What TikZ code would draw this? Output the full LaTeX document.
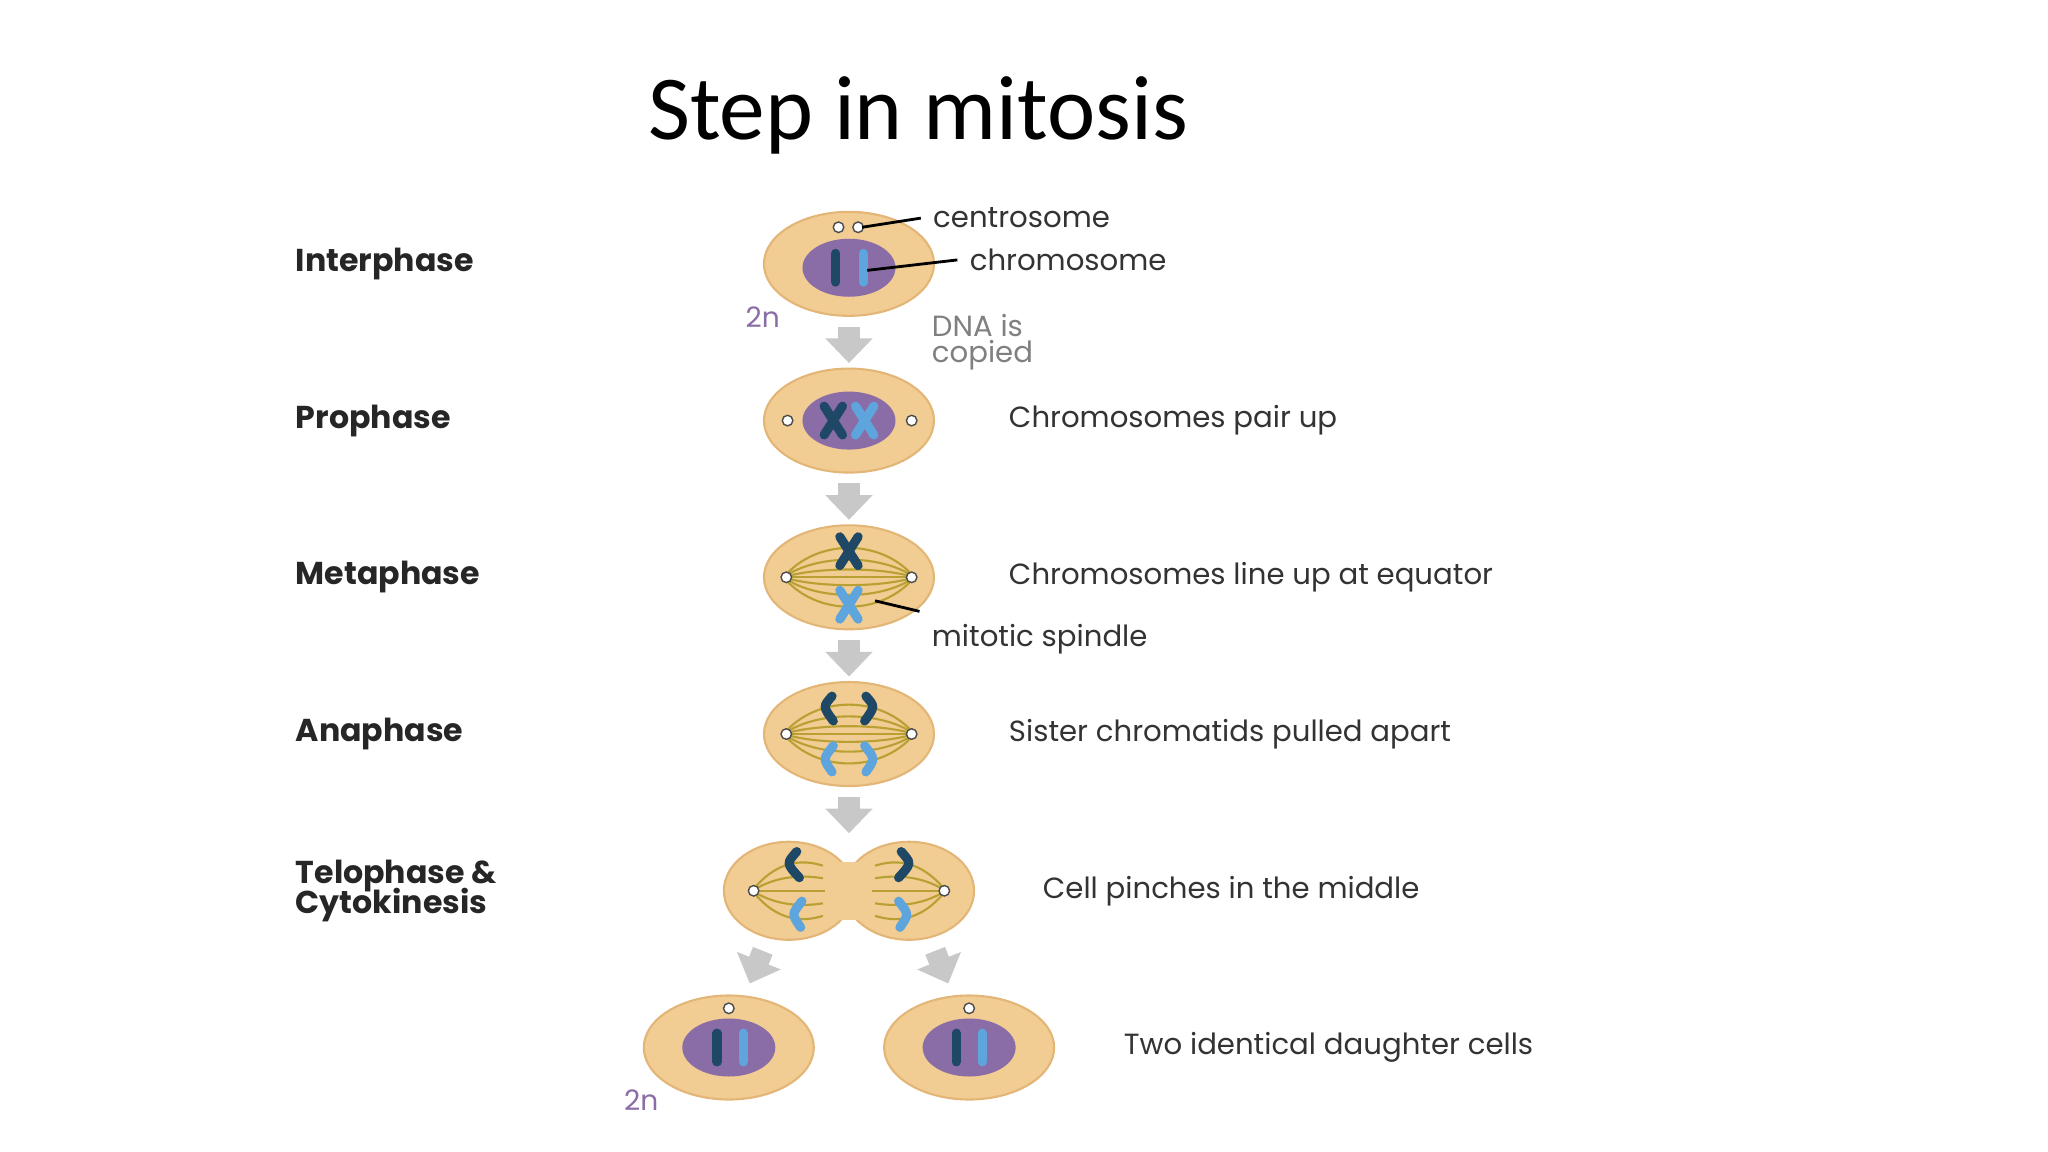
\documentclass[tikz,border=0pt]{standalone}
\usepackage{fontspec}
\setmainfont{Carlito}
\newfontfamily\lab{Poppins}
\usetikzlibrary{shapes.geometric,arrows.meta}
\definecolor{cellc}{HTML}{F1CC93}
\definecolor{celle}{HTML}{E3B677}
\definecolor{nuc}{HTML}{8A6CA6}
\definecolor{dk}{HTML}{1E4866}
\definecolor{lt}{HTML}{5DA5DC}
\definecolor{sp}{HTML}{B9A032}
\definecolor{arr}{HTML}{C8C8C8}
\begin{document}
\begin{tikzpicture}[x=0.013061cm,y=-0.013061cm,
  cell/.style={ellipse,fill=cellc,draw=celle,line width=0.6pt,minimum width=1.70cm,minimum height=1.04cm,inner sep=0},
  nucl/.style={ellipse,fill=nuc,minimum width=0.93cm,minimum height=0.58cm,inner sep=0},
  stage/.style={font=\lab\fontsize{9}{9}\selectfont\bfseries,text=black!85,anchor=west,align=left},
  desc/.style={font=\lab\fontsize{8.3}{9}\selectfont,text=black!80,anchor=west},
  ann/.style={font=\lab\fontsize{8.3}{8.5}\selectfont,text=black!80,anchor=west},
  dchr/.style={line width=2.6pt,dk,line cap=round},
  lchr/.style={line width=2.6pt,lt,line cap=round},
  spl/.style={sp,line width=0.6pt},
  cen/.style={circle,fill=white,draw=black!70,line width=0.4pt,inner sep=0,minimum size=3pt},
  down/.style={-{Triangle[length=7pt,width=13pt]},line width=6pt,arr},
  pl/.style={font=\lab\fontsize{8}{8}\selectfont,text=nuc}]
\useasboundingbox (0,0) rectangle (1568,882);
\node[font=\fontsize{26}{30}\selectfont] (title) at (703,88) {Step in mitosis};
% stage labels
\node[stage] (s1) at (217,202) {Interphase};
\node[stage] (s2) at (217,322) {Prophase};
\node[stage] (s3) at (217,442) {Metaphase};
\node[stage] (s4) at (217,562) {Anaphase};
\node[stage] (s5) at (217,682) {Telophase \&\\[-2pt]Cytokinesis};
% interphase
\node[cell] (c1) at (650,202) {};
\node[nucl] (n1) at (650,205) {};
\draw[dchr] (640,194)--(640,216);
\draw[lchr] (661,194)--(661,216);
\node[cen] (ce1) at (642,174) {};
\node[cen] at (657,174) {};
\node[ann] (lc) at (705,167) {centrosome};
\node[ann] (lch) at (733,199) {chromosome};
\draw[black,line width=0.8pt] (lc.west) -- (660,174);
\draw[black,line width=0.8pt] (lch.west) -- (664,207);
\node[pl] at (584,243) {2n};
\node[ann,text=black!50,align=left,font=\lab\fontsize{8.3}{7.5}\selectfont] at (704,262) {DNA is\\copied};
% prophase
\node[cell] (c2) at (650,322) {};
\node[nucl] (n2) at (650,322) {};
\draw[dchr] (631,311)--(645,333) (645,311)--(631,333);
\draw[lchr] (655,311)--(669,333) (669,311)--(655,333);
\node[cen] at (603,322) {};
\node[cen] at (698,322) {};
\node[desc] at (763,322) {Chromosomes pair up};
% metaphase
\node[cell] (c3) at (650,442) {};
\foreach \d in {-30,-18,-8,8,18,30} \draw[spl] (600,442) .. controls (625,{442+\d}) and (675,{442+\d}) .. (700,442);
\draw[spl] (600,442)--(700,442);
\draw[dchr] (643,411)--(657,433) (657,411)--(643,433);
\draw[lchr] (643,452)--(657,474) (657,452)--(643,474);
\node[cen] at (602,442) {};
\node[cen] at (698,442) {};
\node[desc] at (763,442) {Chromosomes line up at equator};
\node[ann] (ms) at (704,489) {mitotic spindle};
\draw[black,line width=0.8pt] (ms.north west) -- (670,460);
% anaphase
\node[cell] (c4) at (650,562) {};
\foreach \d in {-30,-18,-8,8,18,30} \draw[spl] (600,562) .. controls (625,{562+\d}) and (675,{562+\d}) .. (700,562);
\draw[spl] (600,562)--(700,562);
\draw[dchr] (637,533) .. controls (630,541) .. (638,552);
\draw[dchr] (663,533) .. controls (670,541) .. (662,552);
\draw[lchr] (638,571) .. controls (630,581) .. (637,591);
\draw[lchr] (662,571) .. controls (670,581) .. (663,591);
\node[cen] at (602,562) {};
\node[cen] at (698,562) {};
\node[desc] at (763,562) {Sister chromatids pulled apart};
% telophase
\node[cell,minimum width=1.3cm,minimum height=0.98cm] (c5a) at (604,682) {};
\node[cell,minimum width=1.3cm,minimum height=0.98cm] (c5b) at (696,682) {};
\fill[cellc] (630,660) rectangle (670,704);
\foreach \d in {-24,-12,12,24} \draw[spl] (576,682) .. controls (595,{682+\d}) and (615,{682+\d}) .. (630,{682+\d*0.8});
\foreach \d in {-24,-12,12,24} \draw[spl] (724,682) .. controls (705,{682+\d}) and (685,{682+\d}) .. (670,{682+\d*0.8});
\draw[spl] (576,682)--(632,682) (668,682)--(724,682);
\draw[dchr] (610,652) .. controls (602,661) .. (612,672);
\draw[dchr] (690,652) .. controls (698,661) .. (688,672);
\draw[lchr] (614,690) .. controls (606,700) .. (613,710);
\draw[lchr] (688,690) .. controls (696,700) .. (689,710);
\node[cen] at (577,682) {};
\node[cen] at (723,682) {};
\node[desc] at (789,682) {Cell pinches in the middle};
% daughters
\node[cell] (d1) at (558,802) {};
\node[nucl] (dn1) at (558,802) {};
\draw[dchr] (549,791)--(549,813);
\draw[lchr] (569,791)--(569,813);
\node[cen] at (558,772) {};
\node[cell] (d2) at (742,802) {};
\node[nucl] (dn2) at (742,802) {};
\draw[dchr] (732,791)--(732,813);
\draw[lchr] (752,791)--(752,813);
\node[cen] at (742,772) {};
\node[pl] at (491,842) {2n};
\node[desc] at (851,802) {Two identical daughter cells};
% arrows
\foreach \i/\y in {1/250,2/370,3/490,4/610}{
  \coordinate (a\i) at (650,\y);
  \coordinate (b\i) at (650,\y+28);
  \draw[down] (a\i) -- (b\i);
}
\coordinate (t1) at (584,728); \coordinate (u1) at (574,753);
\coordinate (t2) at (716,728); \coordinate (u2) at (726,753);
\draw[down] (t1) -- (u1);
\draw[down] (t2) -- (u2);
\end{tikzpicture}
\end{document}
